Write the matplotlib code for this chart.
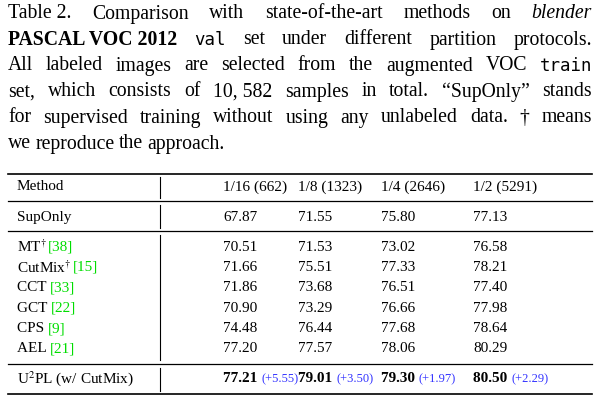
import matplotlib
matplotlib.use("Agg")
import matplotlib.pyplot as plt

plt.rcParams['font.family'] = ['Liberation Serif', 'DejaVu Serif']
plt.rcParams['mathtext.fontset'] = 'stix'

headers = ["Method", "1/16 (662)", "1/8 (1323)", "1/4 (2646)", "1/2 (5291)"]
sup_row = ["SupOnly", "67.87", "71.55", "75.80", "77.13"]
methods = [("MT$^{\\dagger}$ ", "[38]"), ("CutMix$^{\\dagger}$ ", "[15]"), ("CCT ", "[33]"),
           ("GCT ", "[22]"), ("CPS ", "[9]"), ("AEL ", "[21]")]
values = [["70.51", "71.53", "73.02", "76.58"],
          ["71.66", "75.51", "77.33", "78.21"],
          ["71.86", "73.68", "76.51", "77.40"],
          ["70.90", "73.29", "76.66", "77.98"],
          ["74.48", "76.44", "77.68", "78.64"],
          ["77.20", "77.57", "78.06", "80.29"]]
ours_name = "U$^2$PL (w/ CutMix)"
ours_vals = ["77.21", "79.01", "79.30", "80.50"]
ours_gain = ["(+5.55)", "(+3.50)", "(+1.97)", "(+2.29)"]

W, H = 600, 401
fig = plt.figure(figsize=(6, 4.01), dpi=100)
fig.canvas.draw()
r = fig.canvas.get_renderer()

def T(x, y, s, **kw):
    kw.setdefault('fontsize', 11)
    t = fig.text(x / W, 1 - y / H, s, va='center', ha='left', **kw)
    return t

def width(t):
    return t.get_window_extent(renderer=r).width

def segs(x, y, parts, fs=11):
    for s, kw in parts:
        kw = dict(kw)
        kw.setdefault('fontsize', fs)
        t = T(x, y, s, **kw)
        x += width(t)
    return x

# caption
cap_fs = 14.2
lines = [
    [("Table 2.", {}), ("Comparison", {}), ("with", {}), ("state-of-the-art", {}), ("methods", {}), ("on", {}), ("blender", {'style': 'italic'})],
    [("PASCAL VOC 2012", {'weight': 'bold'}), ("val", {'family': 'DejaVu Sans Mono'}), ("set", {}), ("under", {}), ("different", {}), ("partition", {}), ("protocols.", {})],
    [("All", {}), ("labeled", {}), ("images", {}), ("are", {}), ("selected", {}), ("from", {}), ("the", {}), ("augmented", {}), ("VOC", {}), ("train", {'family': 'DejaVu Sans Mono'})],
    [("set,", {}), ("which", {}), ("consists", {}), ("of", {}), ("10, 582", {}), ("samples", {}), ("in", {}), ("total.", {}), ("\u201cSupOnly\u201d", {}), ("stands", {})],
    [("for", {}), ("supervised", {}), ("training", {}), ("without", {}), ("using", {}), ("any", {}), ("unlabeled", {}), ("data.", {}), ("\u2020", {}), ("means", {})],
    [("we", {}), ("reproduce", {}), ("the", {}), ("approach.", {})],
]
x0, x1 = 8, 592
for i, ln in enumerate(lines):
    y = 14 + i * 26
    ts = []
    for s, kw in ln:
        kw = dict(kw)
        fs = cap_fs * (0.88 if kw.get('family') == 'DejaVu Sans Mono' else 1)
        ts.append(T(0, y, s, fontsize=fs, **kw))
    ws = [width(t) for t in ts]
    if i < len(lines) - 1:
        gap = (x1 - x0 - sum(ws)) / (len(ts) - 1)
    else:
        gap = 4.5
    x = x0
    for t, w in zip(ts, ws):
        t.set_x(x / W)
        x += w + gap

# table
cols = [247, 322, 405, 497]
mx = 17
vx = 160
def hline(y, lw=1.0):
    fig.add_artist(plt.Line2D([8 / W, 592 / W], [1 - y / H] * 2, color='black', lw=lw))
def vline(y0, y1):
    fig.add_artist(plt.Line2D([vx / W] * 2, [1 - y0 / H, 1 - y1 / H], color='black', lw=0.8))

hline(174, 1.2); hline(201, 0.9); hline(231, 0.9); hline(364, 0.9); hline(394, 1.2)
vline(177, 198); vline(205, 228); vline(235, 360); vline(368, 391)

T(mx, 187, headers[0])
for c, h in zip(cols, headers[1:]):
    T(c - 24, 187, h)
T(mx, 217, sup_row[0])
for c, v in zip(cols, sup_row[1:]):
    T(c - 24, 217, v)
green = '#00dd00'
for i, ((name, ref), row) in enumerate(zip(methods, values)):
    y = 247 + i * 20.4
    segs(mx, y, [(name, {}), (ref, {'color': green})])
    for c, v in zip(cols, row):
        T(c - 24, y, v)
T(mx, 379, ours_name)
for c, v, g in zip(cols, ours_vals, ours_gain):
    segs(c - 24, 379, [(v + " ", {'weight': 'bold'}), (g, {'color': '#3333ff', 'fontsize': 9})])

fig.savefig("out.png", dpi=100)
